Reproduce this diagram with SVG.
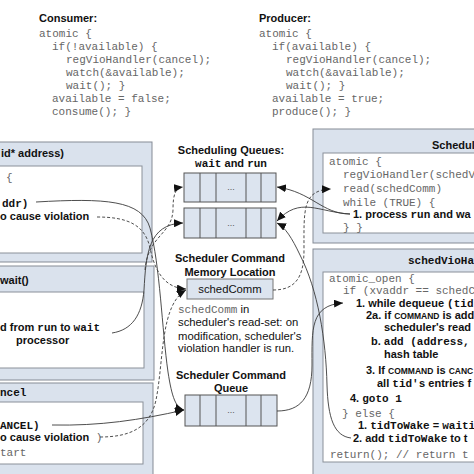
<svg xmlns="http://www.w3.org/2000/svg" width="474" height="474" viewBox="0 0 474 474">
<defs>
<marker id="ah" markerUnits="userSpaceOnUse" markerWidth="10" markerHeight="8" refX="9" refY="4" orient="auto"><path d="M0,0 L9,4 L0,8 z" fill="#111"/></marker>
</defs>
<style>
.m{font-family:"Liberation Mono","DejaVu Sans Mono",monospace;font-size:11px;fill:#666}
.b{font-family:"Liberation Sans",Arial,sans-serif;font-weight:bold;font-size:11px;fill:#111}
.mb{font-family:"Liberation Mono","DejaVu Sans Mono",monospace;font-weight:bold;font-size:11px;fill:#111}
.s{font-family:"Liberation Sans",Arial,sans-serif;font-size:11.3px;fill:#111}
.sc{font-size:8.5px}
.outer{fill:#dae2ed;stroke:#858b95;stroke-width:1}
.inner{fill:#fff;stroke:#8a9099;stroke-width:1}
.cell{fill:#dce4ef;stroke:#555;stroke-width:1}
.div{stroke:#555;stroke-width:1}
.dots{font-family:"Liberation Sans",Arial,sans-serif;font-size:9px;fill:#555}
.c{fill:none;stroke:#3a3a3a;stroke-width:0.9}
.d{stroke-dasharray:3 2}
</style>
<rect width="474" height="474" fill="#fff"/>

<g id="consumer">
<text class="b" x="39" y="22">Consumer:</text>
<text class="m" x="39" y="37">atomic {</text>
<text class="m" x="52" y="50">if(!available) {</text>
<text class="m" x="66" y="63">regVioHandler(cancel);</text>
<text class="m" x="66" y="76">watch(&amp;available);</text>
<text class="m" x="66" y="89">wait(); }</text>
<text class="m" x="52" y="102">available = false;</text>
<text class="m" x="52" y="115">consume(); }</text>
</g>

<g id="producer">
<text class="b" x="259" y="22">Producer:</text>
<text class="m" x="259" y="37">atomic {</text>
<text class="m" x="272" y="50">if(available) {</text>
<text class="m" x="286" y="63">regVioHandler(cancel);</text>
<text class="m" x="286" y="76">watch(&amp;available);</text>
<text class="m" x="286" y="89">wait(); }</text>
<text class="m" x="272" y="102">available = true;</text>
<text class="m" x="272" y="115">produce(); }</text>
</g>

<g id="watch-panel">
<rect class="outer" x="-10" y="142" width="162" height="120"/>
<rect class="inner" x="-10" y="166" width="152" height="87"/>
<text class="b" x="1" y="157">id* address)</text>
<text class="m" x="6" y="181">{</text>
<text class="mb" x="2" y="207">ddr)</text>
<text class="b" x="0" y="220">o cause violation</text>
</g>

<g id="wait-panel">
<rect class="outer" x="-10" y="266" width="164" height="114"/>
<rect class="inner" x="-10" y="292" width="154" height="76"/>
<text class="b" x="0" y="284">wait()</text>
<text x="0" y="331"><tspan class="b">d from </tspan><tspan class="mb">run</tspan><tspan class="b"> to </tspan><tspan class="mb">wait</tspan></text>
<text class="b" x="16" y="344">processor</text>
</g>

<g id="cancel-panel">
<rect class="outer" x="-10" y="383" width="163" height="100"/>
<rect class="inner" x="-10" y="402" width="153" height="62"/>
<text class="mb" x="0" y="396">ncel</text>
<text class="mb" x="0" y="429">ANCEL)</text>
<text x="0" y="441"><tspan class="b">o cause violation</tspan><tspan class="m"> )</tspan></text>
<text class="m" x="0" y="456">tart</text>
</g>

<g id="scheduling-queues">
<text class="b" x="231" y="154" text-anchor="middle">Scheduling Queues:</text>
<text x="231" y="167" text-anchor="middle"><tspan class="mb">wait</tspan><tspan class="b"> and </tspan><tspan class="mb">run</tspan></text>
<rect class="cell" x="184" y="173" width="92" height="29"/>
<path class="div" d="M200,173V202M216,173V202M246,173V202M261,173V202"/>
<text class="dots" x="231" y="190" text-anchor="middle">...</text>
<rect class="cell" x="184" y="208" width="92" height="30"/>
<path class="div" d="M200,208V238M216,208V238M246,208V238M261,208V238"/>
<text class="dots" x="231" y="226" text-anchor="middle">...</text>
</g>

<g id="sched-comm">
<text class="b" x="230" y="262" text-anchor="middle">Scheduler Command</text>
<text class="b" x="230" y="276" text-anchor="middle">Memory Location</text>
<rect class="cell" x="187" y="279" width="86" height="20" style="stroke:#777"/>
<text class="s" x="230" y="293" text-anchor="middle">schedComm</text>
<text x="178" y="313"><tspan class="m">schedComm</tspan><tspan class="s"> in</tspan></text>
<text class="s" x="178" y="326">scheduler's read-set: on</text>
<text class="s" x="178" y="340">modification, scheduler's</text>
<text class="s" x="178" y="352">violation handler is run.</text>
</g>

<g id="command-queue">
<text class="b" x="231" y="379" text-anchor="middle">Scheduler Command</text>
<text class="b" x="231" y="392" text-anchor="middle">Queue</text>
<rect class="cell" x="185" y="395" width="92" height="31"/>
<path class="div" d="M200,395V426M216,395V426M246,395V426M261,395V426"/>
<text class="dots" x="231" y="413" text-anchor="middle">...</text>
</g>

<g id="scheduler-panel">
<rect class="outer" x="313" y="129" width="170" height="114"/>
<rect class="inner" x="323" y="153" width="160" height="80"/>
<text class="b" x="432" y="149">Schedul</text>
<text class="m" x="329" y="165">atomic {</text>
<text class="m" x="343" y="178">regVioHandler(schedV</text>
<text class="m" x="343" y="192">read(schedComm)</text>
<text class="m" x="343" y="206">while (TRUE) {</text>
<text x="353" y="218"><tspan class="b">1. process </tspan><tspan class="mb">run</tspan><tspan class="b"> and wa</tspan></text>
<text class="m" x="343" y="231">} }</text>
</g>

<g id="vio-handler-panel">
<rect class="outer" x="313" y="249" width="170" height="235"/>
<rect class="inner" x="323" y="272" width="160" height="190"/>
<text class="mb" x="408" y="264">schedVioHa</text>
<text class="m" x="329" y="282">atomic_open {</text>
<text class="m" x="343" y="294">if (xvaddr == schedC</text>
<text x="356" y="307"><tspan class="b">1. while dequeue </tspan><tspan class="mb">(tid</tspan></text>
<text x="366" y="319"><tspan class="b">2a. if </tspan><tspan class="b sc">COMMAND</tspan><tspan class="b"> is add</tspan></text>
<text class="b" x="384" y="331">scheduler's read</text>
<text x="371" y="345"><tspan class="b">b. </tspan><tspan class="mb">add (address,</tspan></text>
<text class="b" x="384" y="358">hash table</text>
<text x="366" y="374"><tspan class="b">3. If </tspan><tspan class="b sc">COMMAND</tspan><tspan class="b"> is </tspan><tspan class="b sc">CANC</tspan></text>
<text x="377" y="387"><tspan class="b">all </tspan><tspan class="mb">tid's</tspan><tspan class="b"> entries f</tspan></text>
<text x="350" y="402"><tspan class="b">4. </tspan><tspan class="mb">goto 1</tspan></text>
<text class="m" x="342" y="417">} else {</text>
<text x="358" y="429"><tspan class="b">1. </tspan><tspan class="mb">tidToWake</tspan><tspan class="b"> = </tspan><tspan class="mb">waiti</tspan></text>
<text x="353" y="442"><tspan class="b">2. add </tspan><tspan class="mb">tidToWake</tspan><tspan class="b"> to t</tspan></text>
<text class="m" x="330" y="458">return(); // return t</text>
</g>

<g id="connectors">
<path class="c" d="M36,202 C105,198 142,200 150,228 C160,265 162,330 168,372 C172,398 176,408 184,410" marker-end="url(#ah)"/>
<path class="c d" d="M97,217 C128,217 145,225 150,248 C155,272 165,288 186,289" marker-end="url(#ah)"/>
<path class="c" d="M112,333 C132,330 142,315 144,290 C146,255 148,224 183,223" marker-end="url(#ah)"/>
<path class="c d" d="M145,270 C148,235 172,235 173,210 C173,195 175,188 183,187" marker-end="url(#ah)"/>
<path class="c d" d="M100,437 C130,437 150,428 156,400 C164,360 160,305 186,290" marker-end="url(#ah)"/>
<path class="c" d="M52,425 C100,426 140,420 184,410" marker-end="url(#ah)"/>
<path class="c" d="M350,214 C322,214 312,192 277,187" marker-end="url(#ah)"/>
<path class="c" d="M350,214 C318,212 300,196 277,221" marker-end="url(#ah)"/>
<path class="c" d="M351,438 C334,436 328,418 327,385 C326,340 318,290 300,255 C292,238 285,227 277,223" marker-end="url(#ah)"/>
<path class="c" d="M277,411 C300,411 312,398 312,365 C312,330 310,305 343,303" marker-end="url(#ah)"/>
<path class="c d" d="M273,290 C295,290 304,278 304,250 C304,210 302,190 331,189" marker-end="url(#ah)"/>
</g>
</svg>
